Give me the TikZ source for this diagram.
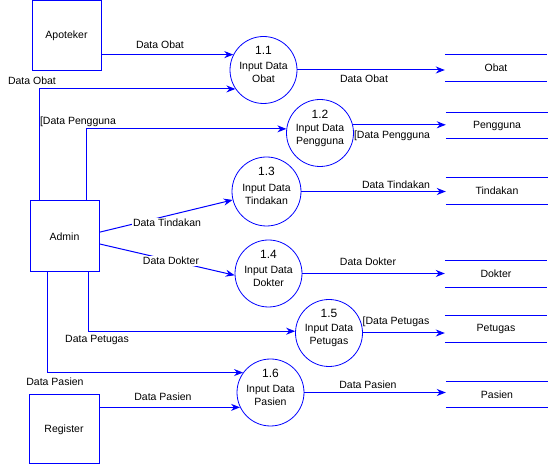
\documentclass[tikz,border=0pt]{standalone}
\usepackage{fontspec}
\setmainfont{Liberation Sans}
\usetikzlibrary{arrows.meta}
\definecolor{dfdblue}{RGB}{0,0,255}
\tikzset{
  entity/.style={draw=dfdblue, line width=1pt, minimum width=69pt, minimum height=70pt, font=\fontsize{10.5}{12}\selectfont},
  proc/.style={draw=dfdblue, circle, line width=0.8pt, minimum size=67pt, inner sep=0pt},
  num/.style={anchor=north, yshift=-7pt, font=\fontsize{12}{14}\selectfont},
  ptext/.style={align=center, yshift=-2.5pt, font=\fontsize{10.5}{13}\selectfont},
  store/.style={minimum width=102pt, minimum height=26pt, font=\fontsize{10.5}{12}\selectfont},
  storeline/.style={draw=dfdblue, line width=1pt},
  flow/.style={draw=dfdblue, line width=1pt, -{Stealth[length=9pt,width=7pt]}},
  lbl/.style={font=\fontsize{10.5}{12}\selectfont, inner sep=1pt},
}
\begin{document}
\begin{tikzpicture}[x=1pt,y=-1pt]
  \useasboundingbox (0,0) rectangle (550,465);
  % external entities
  \node[entity] (apoteker) at (66.5,36) {Apoteker};
  \node[entity, minimum height=71pt] (admin) at (64.5,236.5) {Admin};
  \node[entity, minimum width=70pt, minimum height=69pt] (register) at (64,429.5) {Register};
  % processes
  \node[proc, label={[num]north:1.1}, label={[ptext]center:Input Data\\Obat}] (p11) at (263.5,70) {};
  \node[proc, label={[num]north:1.2}, label={[ptext]center:Input Data\\Pengguna}] (p12) at (320,133) {};
  \node[proc, minimum size=69pt, label={[num]north:1.3}, label={[ptext]center:Input Data\\Tindakan}] (p13) at (266.5,191.5) {};
  \node[proc, label={[num]north:1.4}, label={[ptext]center:Input Data\\Dokter}] (p14) at (268.5,273.5) {};
  \node[proc, label={[num]north:1.5}, label={[ptext]center:Input Data\\Petugas}] (p15) at (329,333) {};
  \node[proc, label={[num]north:1.6}, label={[ptext]center:Input Data\\Pasien}] (p16) at (270.5,392.5) {};
  % data stores
  \node[store] (obat) at (496,68) {Obat};
  \node[store] (pengguna) at (497,125.5) {Pengguna};
  \node[store] (tindakan) at (497,191) {Tindakan};
  \node[store] (dokter) at (496,274) {Dokter};
  \node[store] (petugas) at (496,329) {Petugas};
  \node[store] (pasien) at (497,394.5) {Pasien};
  \foreach \s in {obat,pengguna,tindakan,dokter,petugas,pasien}
    \draw[storeline] (\s.north west) -- (\s.north east) (\s.south west) -- (\s.south east);
  % flows into the processes
  \draw[flow] (apoteker.east |- p11.153) -- (p11.153);
  \draw[flow] ([xshift=10pt]admin.north west) |- (p11.214);
  \draw[flow] ([xshift=57pt]admin.north west) |- (p12.173);
  \draw[flow] (admin.7) -- (p13.194);
  \draw[flow] (admin.-12) -- (p14.183);
  \draw[flow] ([xshift=59pt]admin.south west) |- (p15.177);
  \draw[flow] ([xshift=18pt]admin.south west) |- (p16.144);
  \draw[flow] (register.east |- p16.206) -- (p16.206);
  % flows into the stores
  \draw[flow] (p11.east) -- (obat.west |- p11.east);
  \draw[flow] (p12.14) -- (pengguna.west |- p12.14);
  \draw[flow] (p13.east) -- (tindakan.west |- p13.east);
  \draw[flow] (p14.east) -- (dokter.west |- p14.east);
  \draw[flow] (p15.east) -- (petugas.west |- p15.east);
  \draw[flow] (p16.east) -- (pasien.west |- p16.east);
  % flow labels
  \node[lbl] (l-apoteker) at (160,45) {Data Obat};
  \node[lbl] (l-adm-obat) at (32,81) {Data Obat};
  \node[lbl] (l-adm-pengguna) at (78,122) {[Data Pengguna};
  \node[lbl, fill=white] (l-adm-tindakan) at (167,223) {Data Tindakan};
  \node[lbl, fill=white] (l-adm-dokter) at (171,261) {Data Dokter};
  \node[lbl] (l-adm-petugas) at (97,340) {Data Petugas};
  \node[lbl] (l-adm-pasien) at (55,382) {Data Pasien};
  \node[lbl] (l-register) at (163,397) {Data Pasien};
  \node[lbl] (l-obat) at (364,79) {Data Obat};
  \node[lbl] (l-pengguna) at (392,136) {[Data Pengguna};
  \node[lbl] (l-tindakan) at (396,185) {Data Tindakan};
  \node[lbl] (l-dokter) at (368,262) {Data Dokter};
  \node[lbl] (l-petugas) at (396,322) {[Data Petugas};
  \node[lbl] (l-pasien) at (368,385) {Data Pasien};
\end{tikzpicture}
\end{document}
